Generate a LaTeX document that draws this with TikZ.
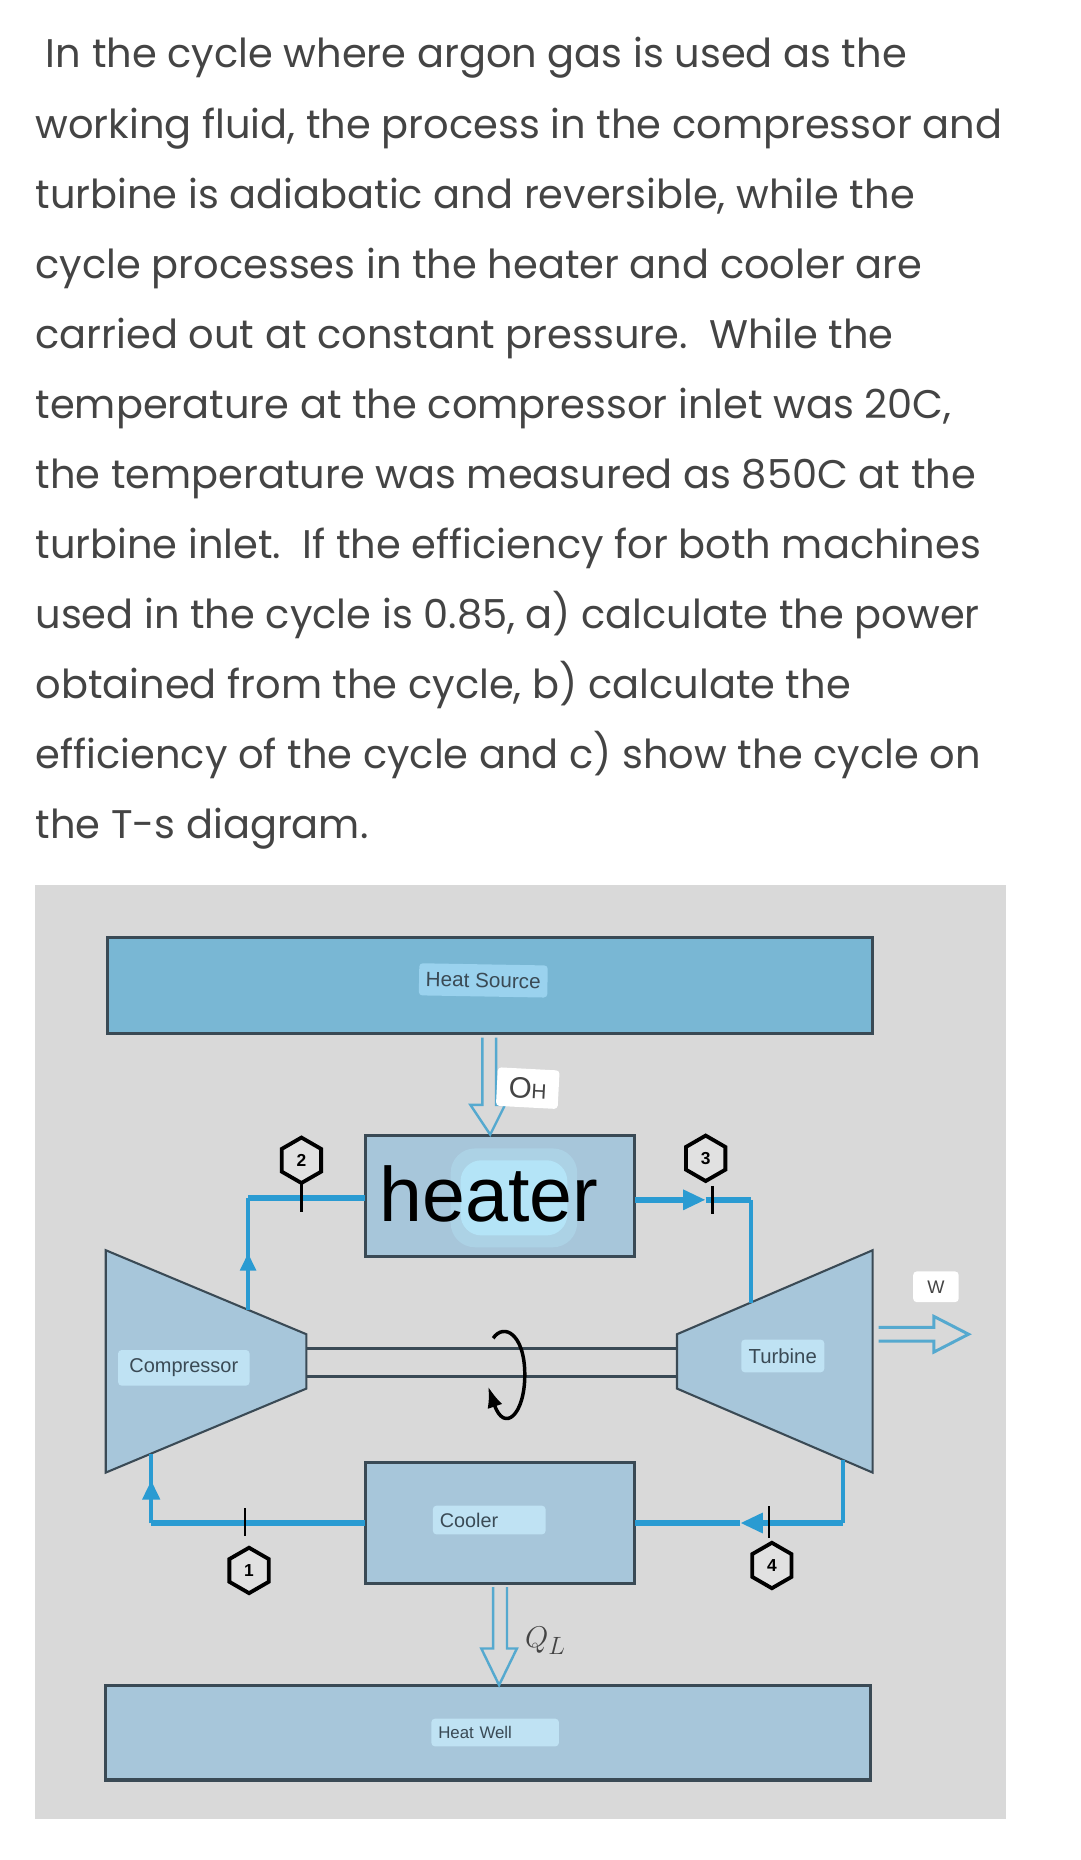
\documentclass[tikz,border=0pt]{standalone}
\usepackage{fontspec}
\setmainfont{Poppins}
\newfontfamily\labelfont{Liberation Sans}
\definecolor{panel}{HTML}{D9D9D9}
\definecolor{warm}{HTML}{79B7D4}
\definecolor{cold}{HTML}{A7C6DA}
\definecolor{pipecol}{HTML}{2A9BD2}
\definecolor{hollow}{HTML}{55A9CF}
\definecolor{tagwarm}{HTML}{9AD2EE}
\definecolor{tagcold}{HTML}{BFE2F3}
\definecolor{glow}{HTML}{B4E4F7}
\definecolor{outline}{HTML}{3A4A55}
\definecolor{ink}{HTML}{444444}
\usetikzlibrary{arrows.meta}
\usetikzlibrary{positioning}
\usetikzlibrary{shapes.geometric}
\tikzstyle{base}=[x=0.02cm, y=-0.02cm, inner sep=0pt, outer sep=0pt]
\tikzstyle{plant}=[draw=outline, line width=1.8pt, fill=cold]
\tikzstyle{tag}=[fill=tagcold, rounded corners=2pt, text=outline, align=left]
\tikzstyle{pipe}=[draw=pipecol, line width=3.4pt]
\tikzstyle{thinpipe}=[draw=pipecol, line width=2pt]
\tikzstyle{tickmark}=[draw=black, line width=1.5pt]
\tikzstyle{station}=[regular polygon, regular polygon sides=6, shape border rotate=30, draw=black, line width=2.2pt, fill=panel!80!white, minimum size=0.92cm, font=\labelfont\bfseries\fontsize{10}{10}\selectfont]
\tikzstyle{shaft}=[draw=outline, line width=1.8pt]
\tikzstyle{hollowline}=[draw=hollow, line width=1.4pt]
\newcommand*{\labelsize}[1]{\labelfont\fontsize{#1}{#1}\selectfont}

\begin{document}
\begin{tikzpicture}[base]
    \useasboundingbox (0,0) rectangle (1093,1882);
    \fill [white] (0,0) rectangle (1093,1882);
    % question text
    \node [anchor=north west, text=ink, align=left, font=\fontsize{23}{40.35}\selectfont] (question) at (36,38) {\hspace{6pt}In the cycle where argon gas is used as the\\
        working fluid, the process in the compressor and\\
        turbine is adiabatic and reversible, while the\\
        cycle processes in the heater and cooler are\\
        carried out at constant pressure.\ \ While the\\
        temperature at the compressor inlet was 20C,\\
        the temperature was measured as 850C at the\\
        turbine inlet.\ \ If the efficiency for both machines\\
        used in the cycle is 0.85, a) calculate the power\\
        obtained from the cycle, b) calculate the\\
        efficiency of the cycle and c) show the cycle on\\
        the T-s diagram.};
    \fill [panel] (35,895) rectangle (1018,1840);
    % boxes
    \node [plant, fill=warm, minimum width=15.48cm, minimum height=1.94cm] (source) at (496,997) {};
    \node [plant, minimum width=5.45cm, minimum height=2.45cm] (heater) at (506,1210) {};
    \node [plant, minimum width=5.45cm, minimum height=2.45cm] (cooler) at (506,1541) {};
    \node [plant, minimum width=15.48cm, minimum height=1.92cm] (well) at (494,1753) {};
    % machines
    \draw [plant, line width=1.2pt] (107,1265) -- (310,1350) -- (310,1405) -- (107,1490) -- cycle;
    \draw [plant, line width=1.2pt] (883,1265) -- (685,1350) -- (685,1405) -- (883,1490) -- cycle;
    \coordinate (shafttopl) at (310,1364);
    \coordinate (shafttopr) at (685,1364);
    \coordinate (shaftbotl) at (310,1393);
    \coordinate (shaftbotr) at (685,1393);
    \draw [shaft] (shafttopl) -- (shafttopr);
    \draw [shaft] (shaftbotl) -- (shaftbotr);
    \draw [black, line width=2pt, -{Latex[length=12pt,width=9pt]}] (499,1354) .. controls (510,1338) and (531,1350) .. (531,1391) .. controls (531,1432) and (510,1450) .. (494,1403);
    % pipes
    \coordinate (cornerA) at (251,1212);
    \coordinate (compout) at (251,1325);
    \coordinate (cornerB) at (760,1214);
    \coordinate (turbin) at (760,1318);
    \coordinate (cornerC) at (853,1541);
    \coordinate (turbout) at (853,1477);
    \coordinate (cornerD) at (153,1541);
    \coordinate (compin) at (153,1471);
    \draw [pipe] (heater.west |- cornerA) -- (cornerA);
    \draw [thinpipe] (cornerA) -- (compout);
    \draw [thinpipe, -{Triangle[length=10pt,width=9pt]}] (compout) -- (251,1268);
    \draw [pipe, -{Triangle[length=13pt,width=11pt]}] (heater.east |- cornerB) -- (714,1214);
    \draw [pipe] (714,1214) -- (cornerB);
    \draw [thinpipe] (cornerB) -- (turbin);
    \draw [thinpipe] (turbout) -- (cornerC);
    \draw [pipe] (cornerC) -- (771,1541);
    \draw [pipe, -{Triangle[length=13pt,width=11pt]}] (771,1541) -- (749,1541);
    \draw [pipe] (749,1541) -- (cooler.east);
    \draw [pipe] (cooler.west) -- (cornerD);
    \draw [thinpipe] (cornerD) -- (compin);
    \draw [thinpipe, -{Triangle[length=11pt,width=10pt]}] (cornerD) -- (153,1498);
    % stations
    \draw [tickmark] (305,1198) -- (305,1226);
    \draw [tickmark] (721,1200) -- (721,1228);
    \draw [tickmark] (248,1526) -- (248,1554);
    \draw [tickmark] (778,1524) -- (778,1556);
    \node [station] (st2) at (305,1174) {2};
    \node [station] (st3) at (714,1172) {3};
    \node [station] (st1) at (252,1589) {1};
    \node [station] (st4) at (781,1584) {4};
    % hollow arrows
    \draw [hollowline] (488,1050) -- (488,1118) -- (476,1118) -- (496,1148) -- (511,1118) -- (502,1118) -- (502,1050);
    \draw [hollowline] (499,1606) -- (499,1668) -- (487,1668) -- (505,1705) -- (523,1668) -- (513,1668) -- (513,1606);
    \draw [hollowline, line width=1.7pt] (889,1343) -- (945,1343) -- (945,1332) -- (980,1350) -- (945,1368) -- (945,1357) -- (889,1357);
    % labels
    \node [tag, fill=tagwarm, minimum width=2.6cm, minimum height=0.65cm, align=center, font=\labelsize{11.9}, rotate=-1] (sourcetag) at (489,992) {Heat Source};
    \node [fill=white, rounded corners=2pt, minimum width=1.25cm, minimum height=0.78cm, text=ink, rotate=-3, font=\labelsize{17}] (qhtag) at (534,1101) {O{\fontsize{12}{12}\selectfont H}};
    \fill [glow, opacity=0.4, rounded corners=14pt] (456,1162) rectangle (584,1262);
    \fill [glow, rounded corners=12pt] (466,1174) rectangle (574,1250);
    \node [text=black, font=\labelsize{44.4}] (heatertag) at (495,1208) {heater};
    \node [tag, minimum width=2.66cm, minimum height=0.72cm, font=\labelsize{11.5}, align=center] (comptag) at (186,1384) {Compressor};
    \node [tag, minimum width=1.68cm, minimum height=0.66cm, font=\labelsize{11.7}, align=center] (turbtag) at (792,1372) {Turbine};
    \node [tag, text width=2cm, minimum height=0.58cm, inner xsep=0.14cm, font=\labelsize{11.4}] (cooltag) at (495,1538) {Cooler};
    \node [tag, text width=2.3cm, minimum height=0.56cm, inner xsep=0.14cm, font=\labelsize{9.7}] (welltag) at (501,1753) {Heat Well};
    \node [fill=white, rounded corners=2pt, minimum width=0.92cm, minimum height=0.62cm, text=ink, font=\labelsize{10.5}] (worktag) at (947,1302) {W};
    \node [text=ink, font=\fontsize{19}{19}\selectfont] (qltag) at (552,1660) {$Q_L$};
\end{tikzpicture}
\end{document}
